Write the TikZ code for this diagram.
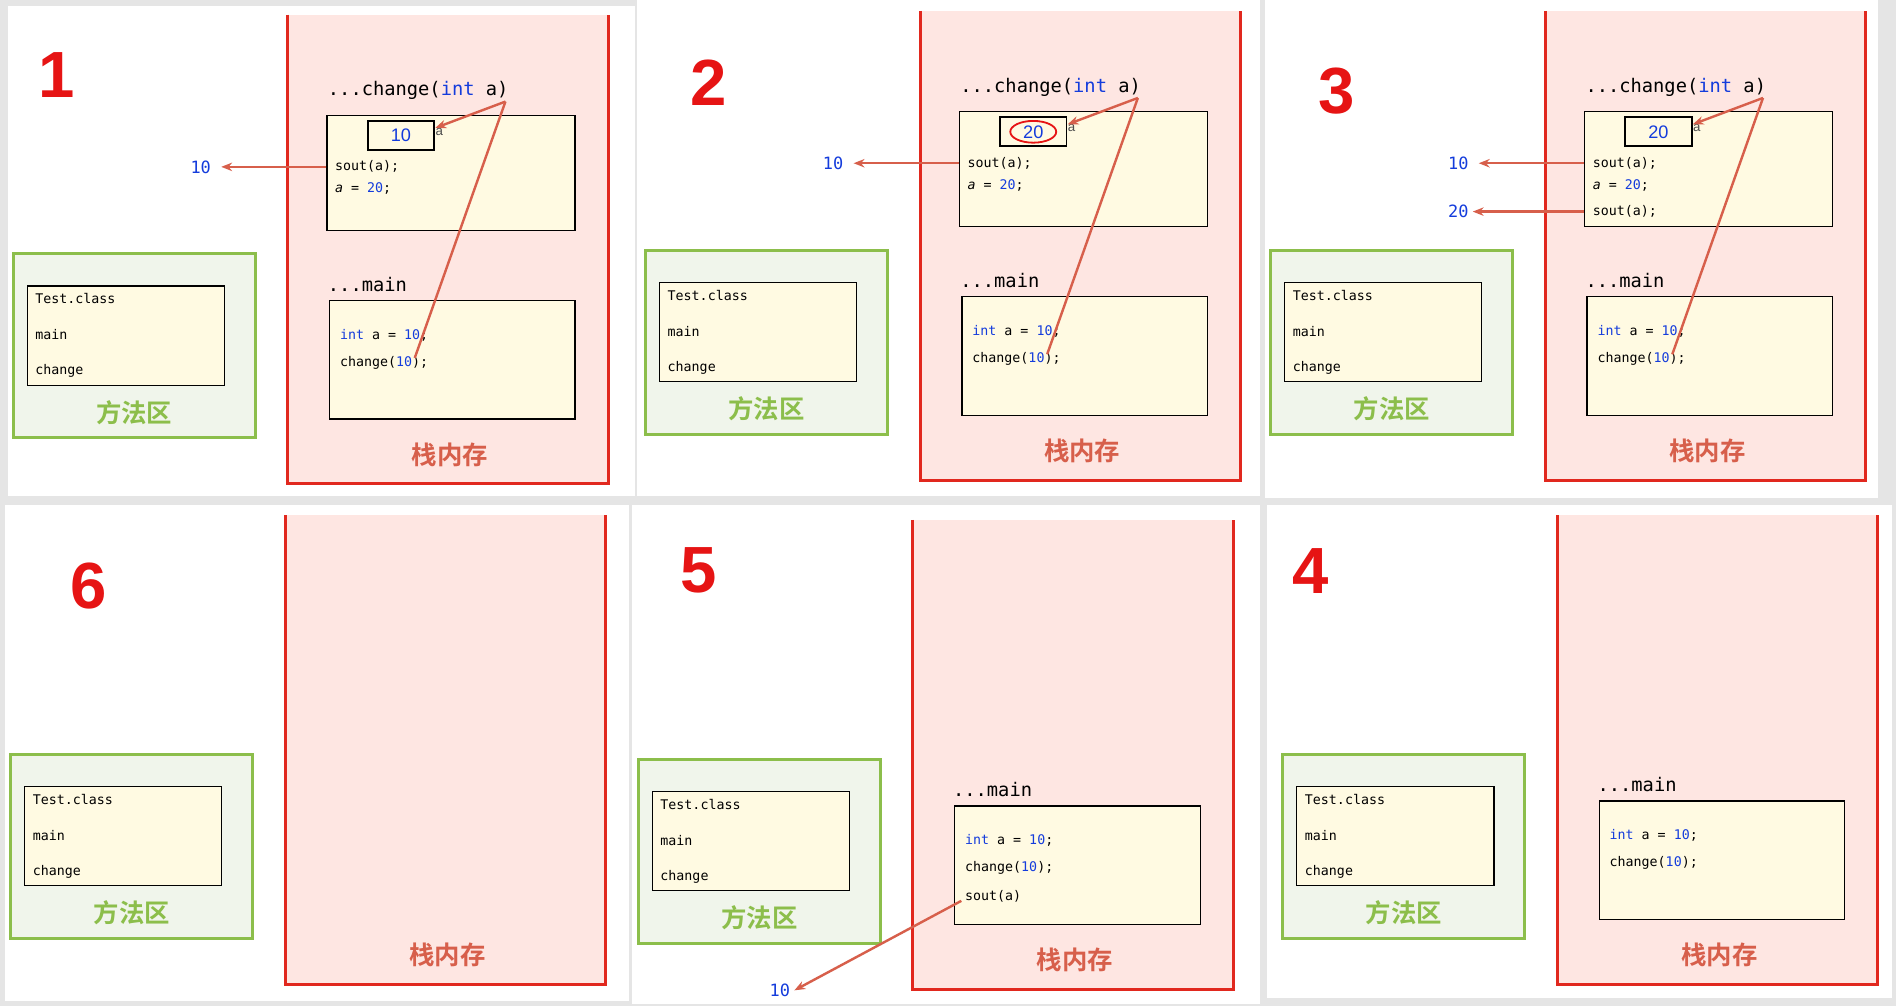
\documentclass[tikz,border=0pt]{standalone}
\usepackage{fontspec}
\setmainfont{Liberation Sans}
\newfontfamily\code{DejaVu Sans Mono}
\newfontfamily\cjk{Noto Sans CJK SC}[BoldFont={* Bold}]
\usetikzlibrary{arrows.meta}
\definecolor{pinkbg}{RGB}{254,230,226}
\definecolor{stackred}{RGB}{225,40,30}
\definecolor{cream}{RGB}{255,250,226}
\definecolor{greenbg}{RGB}{240,245,235}
\definecolor{greenbd}{RGB}{140,190,75}
\definecolor{arr}{RGB}{215,95,75}
\definecolor{kw}{RGB}{20,60,220}
\definecolor{numred}{RGB}{230,20,20}
\tikzset{
 panel/.style={fill=white,draw=none},
 stackbox/.style={fill=pinkbg,draw=stackred,line width=2.5pt},
 framebox/.style={fill=cream,draw=black,line width=1pt},
 marea/.style={fill=greenbg,draw=greenbd,line width=2.5pt},
 codet/.style={anchor=west,font=\code\fontsize{11}{12}\selectfont,inner sep=0pt},
 lbl/.style={font=\code\fontsize{15.5}{17}\selectfont,inner sep=0pt},
 bign/.style={font=\bfseries\fontsize{54}{58}\selectfont,text=numred},
 arw/.style={draw=arr,line width=2pt,-{Stealth[length=9pt,width=7pt]}},
 outnum/.style={font=\code\fontsize{14}{16}\selectfont,text=kw},
 cjkl/.style={font=\cjk\bfseries\fontsize{21}{24}\selectfont},
}
\newcommand{\kw}[1]{\textcolor{kw}{#1}}
\newcommand{\common}[2]{%
 \node[bign] (num) at (#2) {#1};
 \draw[marea] (11,210) rectangle (211,362);
 \node[framebox,minimum width=163pt,minimum height=82pt,anchor=north west] (cls) at (22,236) {};
 \node[codet] (t1) at (29,247) {Test.class};
 \node[codet] (t2) at (29,277) {main};
 \node[codet] (t3) at (29,307) {change};
 \node[cjkl,text=greenbd] (ma) at (111,341) {方法区};
 \draw[stackbox] (238,12) |- (503,400) -- (503,12);
 \node[cjkl,text=arr] (sk) at (372,376) {栈内存};
}
\newcommand{\changeframe}[1]{%
 \node[lbl,anchor=west] (cl) at (271,75) {...change(\kw{int} a)};
 \node[framebox,minimum width=205pt,minimum height=95pt,anchor=north west] (cf) at (270,95) {};
 \node[draw=black,line width=1.5pt,fill=cream,minimum width=55pt,minimum height=24pt,font=\fontsize{15}{17}\selectfont,text=kw] (val) at (331.5,112) {#1};
 \node[font=\fontsize{11}{12}\selectfont,text=black!70,anchor=west,inner sep=0pt] (va) at (360,109) {a};
 \node[codet] (s1) at (277,138) {sout(a);};
 \node[codet] (s2) at (277,156) {\textit{a} = \kw{20};};
 \node[outnum] (o1) at (166,138) {10};
 \draw[arw,shorten >=5pt] (cf.west |- s1) -- (o1.east);
}
\newcommand{\mainframe}{%
 \node[lbl,anchor=west] (ml) at (271,235) {...main};
 \node[framebox,minimum width=203pt,minimum height=98pt,anchor=north west] (mf) at (272,248) {};
 \node[codet] (m1) at (281,277) {\kw{int} a = \kw{10};};
 \node[codet] (m2) at (281,300) {change(\kw{10});};
}
\newcommand{\callarrow}{%
 \coordinate (cp) at (418,84);
 \draw[draw=arr,line width=2pt] (343,296) -- (cp);
 \draw[arw] (cp) -- (va.north west);
}
\begin{document}
\begin{tikzpicture}[x=1pt,y=-1pt]
\fill[black!10] (0,0) rectangle (1568,832);
\useasboundingbox (0,0) rectangle (1568,832);
\fill[panel] (7,5) rectangle (525,410);
\fill[panel] (527,0) rectangle (1042,410);
\fill[panel] (1046,0) rectangle (1553,412);
\fill[panel] (4,418) rectangle (520,828);
\fill[panel] (523,418) rectangle (1042,830);
\fill[panel] (1048,418) rectangle (1565,825);
\begin{scope}[name prefix=pa-]
\common{1}{47,62}\changeframe{10}\mainframe\callarrow
\end{scope}
\begin{scope}[shift={(523,-3)},name prefix=pb-]
\common{2}{63,71}\changeframe{20}\mainframe\callarrow
\draw[numred,line width=1.5pt] (val.center) ellipse (19pt and 9pt);
\end{scope}
\begin{scope}[shift={(1040,-3)},name prefix=pc-]
\common{3}{65,78}\changeframe{20}\mainframe\callarrow
\node[codet] (s3) at (277,178) {sout(a);};
\node[outnum] (o2) at (166,178) {20};
\draw[arw] (cf.west |- s3) -- (o2.east);
\end{scope}
\begin{scope}[shift={(-2,414)},name prefix=pf-]
\common{6}{75,71}
\end{scope}
\begin{scope}[shift={(517,418)},name prefix=pe-]
\common{5}{61,54}\mainframe
\node[codet] (m3) at (281,323) {sout(a)};
\node[outnum] (o1) at (128,401) {10};
\draw[arw] (278,327) -- (o1.east);
\end{scope}
\begin{scope}[shift={(1050,414)},name prefix=pd-]
\common{4}{34,58}\mainframe
\end{scope}
\end{tikzpicture}
\end{document}
